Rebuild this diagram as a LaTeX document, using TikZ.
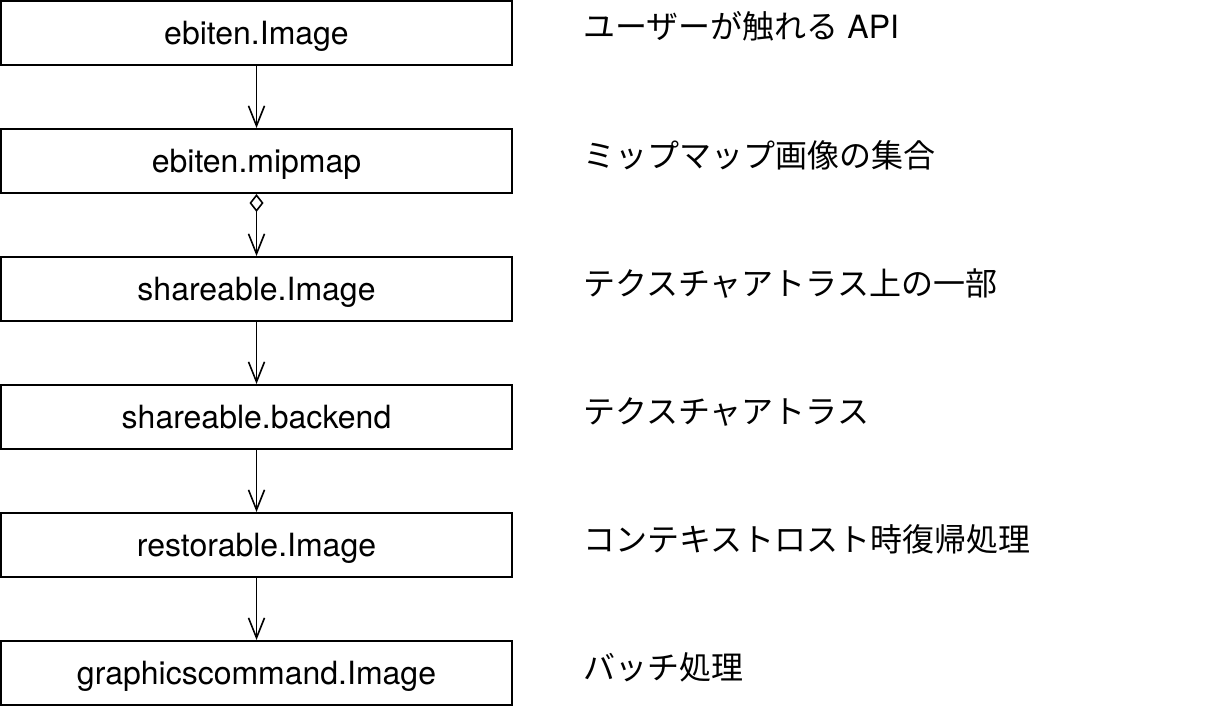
\documentclass[tikz,border=0pt]{standalone}
\usepackage{fontspec}
\setmainfont{TeX Gyre Heros}
\newfontfamily\jpfont{Noto Sans CJK JP}
\usetikzlibrary{arrows.meta}
\begin{document}
\begin{tikzpicture}[x=1pt,y=-1pt,
  box/.style={draw, line width=2pt, minimum width=511pt, minimum height=64pt, inner sep=0pt, text height=23pt, text depth=0pt, font=\fontsize{32}{38}\selectfont},
  arr/.style={line width=1.6pt, -{Straight Barb[length=20pt,width=16pt,line width=1.6pt]}},
  dia/.style={{Diamond[open,length=18pt,width=14pt,line width=1.6pt]}-{Straight Barb[length=20pt,width=16pt,line width=1.6pt]}},
  jp/.style={anchor=base west, inner sep=0pt, font=\fontsize{32}{38}\selectfont}]
\useasboundingbox (0,0) rectangle (1217,706);
\node[box] (b1) at (256.5,33) {ebiten.Image};
\node[box] (b2) at (256.5,161) {ebiten.mipmap};
\node[box] (b3) at (256.5,289) {shareable.Image};
\node[box] (b4) at (256.5,417) {shareable.backend};
\node[box] (b5) at (256.5,545) {restorable.Image};
\node[box] (b6) at (256.5,673) {graphicscommand.Image};
\draw[arr] (b1.south) -- (b2.north);
\draw[arr,dia] (b2.south) -- (b3.north);
\draw[arr] (b3.south) -- (b4.north);
\draw[arr] (b4.south) -- (b5.north);
\draw[arr] (b5.south) -- (b6.north);
\node[jp] (t1) at (583,39) {{\jpfont ユーザーが触れる} API};
\node[jp] (t2) at (583,167) {\jpfont ミップマップ画像の集合};
\node[jp] (t3) at (583,295) {\jpfont テクスチャアトラス上の一部};
\node[jp] (t4) at (583,423) {\jpfont テクスチャアトラス};
\node[jp] (t5) at (583,551) {\jpfont コンテキストロスト時復帰処理};
\node[jp] (t6) at (583,679) {\jpfont バッチ処理};
\end{tikzpicture}
\end{document}
